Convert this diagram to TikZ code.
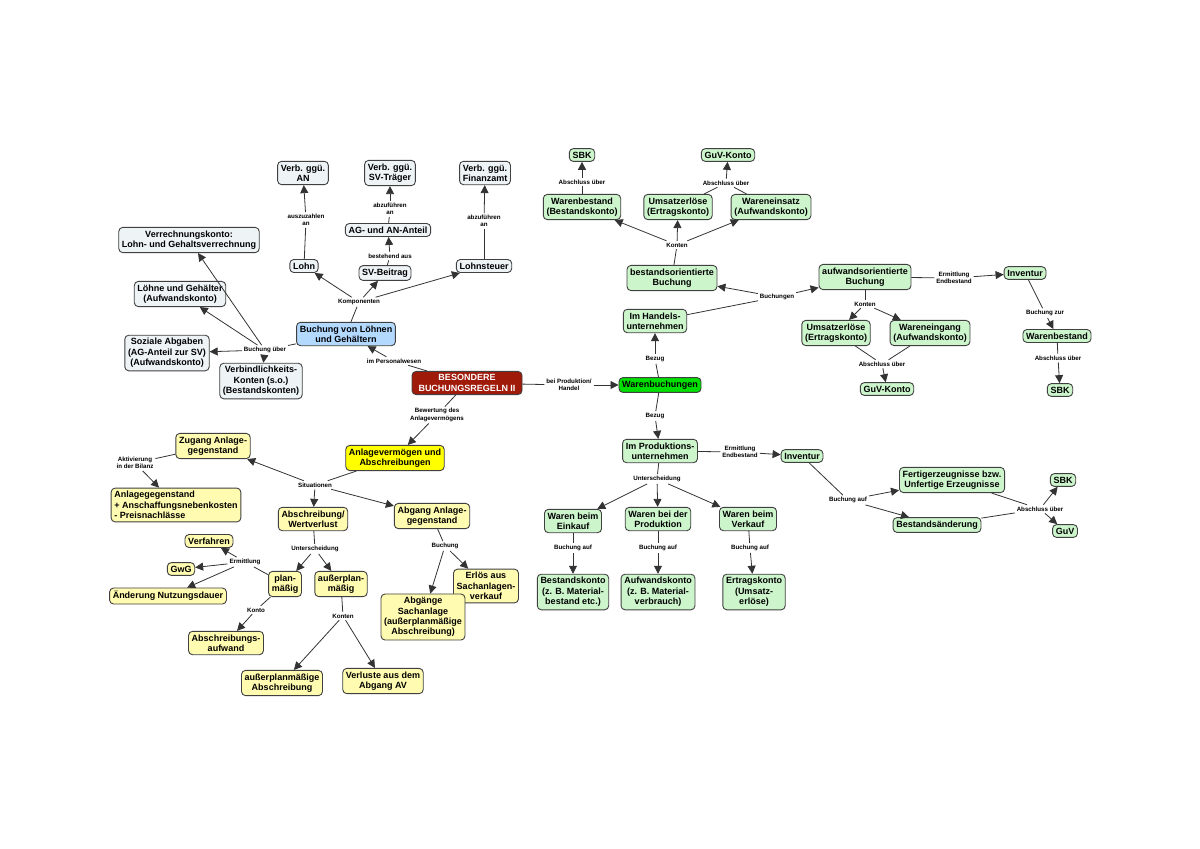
\documentclass[tikz,border=0pt]{standalone}
\usepackage{fontspec}
\setmainfont{Liberation Sans}
\usetikzlibrary{arrows.meta}
\definecolor{gr}{HTML}{EEF3F6}
\definecolor{bl}{HTML}{B3D9FF}
\definecolor{rd}{HTML}{A01A0A}
\definecolor{yl}{HTML}{FFFBB0}
\definecolor{yb}{HTML}{FFFF00}
\definecolor{gn}{HTML}{CCF5CC}
\definecolor{gb}{HTML}{00E000}
\tikzset{
 bx/.style={draw=black!75,line width=0.45pt,rounded corners=2pt,align=center,inner sep=1.6pt,font=\fontsize{4.5}{5.2}\selectfont\bfseries},
 gbox/.style={bx,fill=gr}, ybox/.style={bx,fill=yl}, nbox/.style={bx,fill=gn},
 lb/.style={align=center,inner sep=0.8pt,font=\fontsize{3.1}{3.6}\selectfont\bfseries},
 ln/.style={draw=black!80,line width=0.4pt},
 ar/.style={ln,-{Triangle[length=4pt,width=4pt]}}
}
\newcommand{\cn}[3]{\draw[ln] (#1) -- (#2); \foreach \t in {#3} {\draw[ar] (#2) -- (\t);}}
\begin{document}
\begin{tikzpicture}[x={(0.5pt,0pt)},y={(0pt,-0.5pt)}]
\useasboundingbox (0,0) rectangle (1200,848);
% grey
\node[gbox] (vAN) at (303,173) {Verb. ggü.\\AN};
\node[gbox] (vSV) at (390,173) {Verb. ggü.\\SV-Träger};
\node[gbox] (vFA) at (485,173) {Verb. ggü.\\Finanzamt};
\node[gbox] (AGAN) at (388,230) {AG- und AN-Anteil};
\node[gbox] (verr) at (189,240) {Verrechnungskonto:\\Lohn- und Gehaltsverrechnung};
\node[gbox] (Lohn) at (304,266) {Lohn};
\node[gbox] (SV) at (385,273) {SV-Beitrag};
\node[gbox] (Lst) at (484,266) {Lohnsteuer};
\node[gbox] (LuG) at (180,294) {Löhne und Gehälter\\(Aufwandskonto)};
\node[gbox] (Soz) at (167,353) {Soziale Abgaben\\(AG-Anteil zur SV)\\(Aufwandskonto)};
\node[gbox] (Verb) at (261,381) {Verbindlichkeits-\\Konten (s.o.)\\(Bestandskonten)};
\node[bx,fill=bl] (Buch) at (346,334) {Buchung von Löhnen\\und Gehältern};
\node[bx,fill=rd,text=white,minimum width=55pt] (Red) at (467,383) {BESONDERE\\BUCHUNGSREGELN II};
\node[lb] (lK) at (359,302) {Komponenten};
\node[lb] (lA1) at (306,220) {auszuzahlen\\an};
\node[lb] (lA2) at (390,209) {abzuführen\\an};
\node[lb] (lB) at (390,256) {bestehend aus};
\node[lb] (lA3) at (484,221) {abzuführen\\an};
\node[lb] (lBu) at (265,350) {Buchung über};
\node[lb] (lP) at (394,361) {im Personalwesen};
\cn{Buch}{lK}{Lohn,SV,Lst}
\cn{Lohn}{lA1}{vAN}
\cn{AGAN}{lA2}{vSV}
\cn{SV}{lB}{AGAN}
\cn{Lst}{lA3}{vFA}
\cn{Buch}{lBu}{LuG,Soz,Verb,verr}
\cn{Red}{lP}{Buch}
% yellow
\node[bx,fill=yb] (Anl) at (395,458) {Anlagevermögen und\\Abschreibungen};
\node[lb] (lBew) at (437,415) {Bewertung des\\Anlagevermögens};
\cn{Red}{lBew}{Anl}
\node[ybox] (Zug) at (213,446) {Zugang Anlage-\\gegenstand};
\node[lb] (lAk) at (135,463) {Aktivierung\\in der Bilanz};
\node[ybox,align=left] (AnlG) at (176,505) {Anlagegegenstand\\+ Anschaffungsnebenkosten\\- Preisnachlässe};
\node[lb] (lSit) at (315,485) {Situationen};
\node[ybox] (Abs) at (313,519) {Abschreibung/\\Wertverlust};
\node[ybox] (Abg) at (432,516) {Abgang Anlage-\\gegenstand};
\node[lb] (lU) at (315,549) {Unterscheidung};
\node[ybox] (Verf) at (209,541) {Verfahren};
\node[ybox] (GwG) at (181,569) {GwG};
\node[lb] (lE) at (245,562) {Ermittlung};
\node[ybox] (Aend) at (168,596) {Änderung Nutzungsdauer};
\node[ybox] (plan) at (285,584) {plan-\\mäßig};
\node[ybox] (aus) at (341,584) {außerplan-\\mäßig};
\node[lb] (lBuch) at (445,546) {Buchung};
\node[ybox] (Erl) at (486,586) {Erlös aus\\Sachanlagen-\\verkauf};
\node[ybox] (Abgae) at (423,617) {Abgänge\\Sachanlage\\(außerplanmäßige\\Abschreibung)};
\node[lb] (lKo) at (256,610) {Konto};
\node[ybox] (Aufw) at (226,643) {Abschreibungs-\\aufwand};
\node[lb] (lKn) at (343,616) {Konten};
\node[ybox] (apa) at (282,683) {außerplanmäßige\\Abschreibung};
\node[ybox] (Verl) at (383,681) {Verluste aus dem\\Abgang AV};
\cn{Anl}{lSit}{Zug,Abs,Abg}
\cn{Zug}{lAk}{AnlG}
\cn{Abs}{lU}{plan,aus}
\cn{plan}{lE}{Verf,GwG,Aend}
\cn{plan}{lKo}{Aufw}
\cn{aus}{lKn}{apa,Verl}
\cn{Abg}{lBuch}{Abgae,Erl}
% green
\node[bx,fill=gb] (War) at (660,385) {Warenbuchungen};
\node[lb] (lPH) at (569,385) {bei Produktion/\\Handel};
\cn{Red}{lPH}{War}
\node[nbox] (SBK1) at (582,155) {SBK};
\node[nbox] (Wb) at (582,207) {Warenbestand\\(Bestandskonto)};
\node[lb] (lS1) at (582,182) {Abschluss über};
\node[nbox] (GuV1) at (728,155) {GuV-Konto};
\node[nbox] (Ums) at (678,207) {Umsatzerlöse\\(Ertragskonto)};
\node[nbox] (Wein) at (771,207) {Wareneinsatz\\(Aufwandskonto)};
\node[lb] (lS2) at (726,183) {Abschluss über};
\node[lb] (lK1) at (677,245) {Konten};
\node[nbox] (best) at (672,278) {bestandsorientierte\\Buchung};
\node[nbox] (aufw) at (865,277) {aufwandsorientierte\\Buchung};
\node[lb] (lBg) at (777,297) {Buchungen};
\node[nbox] (han) at (655,321) {Im Handels-\\unternehmen};
\node[lb] (lBz1) at (655,359) {Bezug};
\node[lb] (lE1) at (954,278) {Ermittlung\\Endbestand};
\node[nbox] (Inv1) at (1025,273) {Inventur};
\node[lb] (lK2) at (865,304) {Konten};
\node[nbox] (Ums2) at (836,333) {Umsatzerlöse\\(Ertragskonto)};
\node[nbox] (Wein2) at (930,333) {Wareneingang\\(Aufwandskonto)};
\node[lb] (lS3) at (882,364) {Abschluss über};
\node[nbox] (GuV2) at (887,389) {GuV-Konto};
\node[lb] (lBz) at (1045,313) {Buchung zur};
\node[nbox] (Wb2) at (1057,336) {Warenbestand};
\node[lb] (lS4) at (1058,358) {Abschluss über};
\node[nbox] (SBK2) at (1060,390) {SBK};
\node[lb] (lBz2) at (655,416) {Bezug};
\node[nbox] (prod) at (660,451) {Im Produktions-\\unternehmen};
\node[lb] (lE2) at (740,452) {Ermittlung\\Endbestand};
\node[nbox] (Inv2) at (802,456) {Inventur};
\node[lb] (lU2) at (657,479) {Unterscheidung};
\node[nbox] (wE) at (573,521) {Waren beim\\Einkauf};
\node[nbox] (wP) at (658,519) {Waren bei der\\Produktion};
\node[nbox] (wV) at (748,519) {Waren beim\\Verkauf};
\node[lb] (lA) at (573,548) {Buchung auf};
\node[lb] (lB2) at (658,548) {Buchung auf};
\node[lb] (lC) at (750,548) {Buchung auf};
\node[nbox] (Bk) at (573,592) {Bestandskonto\\(z. B. Material-\\bestand etc.)};
\node[nbox] (Ak) at (658,592) {Aufwandskonto\\(z. B. Material-\\verbrauch)};
\node[nbox] (Ek) at (754,592) {Ertragskonto\\(Umsatz-\\erlöse)};
\node[lb] (lBa) at (848,500) {Buchung auf};
\node[nbox] (Fert) at (952,480) {Fertigerzeugnisse bzw.\\Unfertige Erzeugnisse};
\node[nbox] (Bst) at (937,525) {Bestandsänderung};
\node[lb] (lS5) at (1040,509) {Abschluss über};
\node[nbox] (SBK3) at (1063,480) {SBK};
\node[nbox] (GuV3) at (1065,531) {GuV};
\cn{War}{lBz1}{han}
\cn{War}{lBz2}{prod}
\cn{han}{lBg}{best,aufw}
\cn{best}{lK1}{Wb,Ums,Wein}
\cn{Wb}{lS1}{SBK1}
\draw[ln] (Ums) -- (lS2); \cn{Wein}{lS2}{GuV1}
\cn{aufw}{lE1}{Inv1}
\cn{aufw}{lK2}{Ums2,Wein2}
\draw[ln] (Ums2) -- (lS3); \cn{Wein2}{lS3}{GuV2}
\cn{Inv1}{lBz}{Wb2}
\cn{Wb2}{lS4}{SBK2}
\cn{prod}{lE2}{Inv2}
\cn{Inv2}{lBa}{Fert,Bst}
\draw[ln] (Fert) -- (lS5); \cn{Bst}{lS5}{SBK3,GuV3}
\cn{prod}{lU2}{wE,wP,wV}
\cn{wE}{lA}{Bk}
\cn{wP}{lB2}{Ak}
\cn{wV}{lC}{Ek}
\end{tikzpicture}
\end{document}
